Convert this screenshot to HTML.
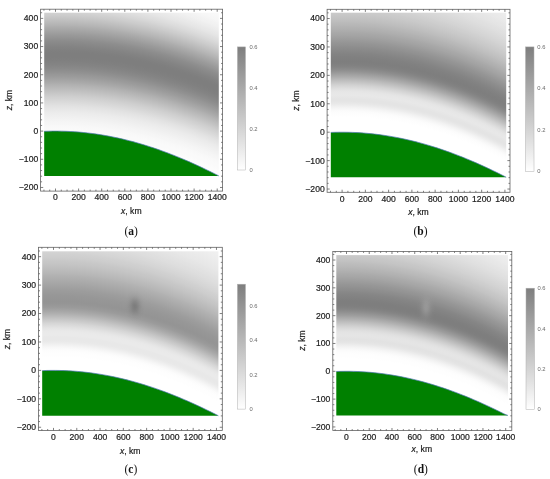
<!DOCTYPE html>
<html><head><meta charset="utf-8"><title>Figure</title>
<style>
html,body{margin:0;padding:0;background:#fff;}
svg{display:block;}
.tl{font-family:"Liberation Sans",sans-serif;font-size:8.6px;fill:#1c1c1c;stroke:#1c1c1c;stroke-width:0.2px;}
.al{font-family:"Liberation Sans",sans-serif;font-size:8.6px;fill:#1c1c1c;stroke:#1c1c1c;stroke-width:0.2px;}
.cap{font-family:"Liberation Serif",serif;font-size:11.5px;fill:#111;}
.cl{font-family:"Liberation Sans",sans-serif;font-size:5.8px;fill:#6a6a6a;}
</style></head><body>
<svg width="550" height="479" viewBox="0 0 550 479">
<defs>
<clipPath id="cpa"><rect x="44.2" y="12.7" width="174.60" height="163.40"/></clipPath>
<radialGradient id="rga" gradientUnits="userSpaceOnUse" cx="0" cy="0" r="8456.24" gradientTransform="translate(57.442 2328.054) scale(0.1155 0.2818)"><stop offset="0.91840" stop-color="#fdfdfd"/><stop offset="0.91923" stop-color="#fcfcfc"/><stop offset="0.92006" stop-color="#fcfcfc"/><stop offset="0.92089" stop-color="#fbfbfb"/><stop offset="0.92171" stop-color="#fafafa"/><stop offset="0.92254" stop-color="#fafafa"/><stop offset="0.92337" stop-color="#f9f9f9"/><stop offset="0.92420" stop-color="#f8f8f8"/><stop offset="0.92503" stop-color="#f6f6f6"/><stop offset="0.92585" stop-color="#f5f5f5"/><stop offset="0.92668" stop-color="#f3f3f3"/><stop offset="0.92751" stop-color="#f1f1f1"/><stop offset="0.92834" stop-color="#efefef"/><stop offset="0.92916" stop-color="#ededed"/><stop offset="0.92999" stop-color="#ebebeb"/><stop offset="0.93082" stop-color="#e8e8e8"/><stop offset="0.93165" stop-color="#e5e5e5"/><stop offset="0.93248" stop-color="#e2e2e2"/><stop offset="0.93330" stop-color="#dedede"/><stop offset="0.93413" stop-color="#dadada"/><stop offset="0.93496" stop-color="#d6d6d6"/><stop offset="0.93579" stop-color="#d2d2d2"/><stop offset="0.93661" stop-color="#cecece"/><stop offset="0.93744" stop-color="#c9c9c9"/><stop offset="0.93827" stop-color="#c4c4c4"/><stop offset="0.93910" stop-color="#bfbfbf"/><stop offset="0.93993" stop-color="#bababa"/><stop offset="0.94075" stop-color="#b5b5b5"/><stop offset="0.94158" stop-color="#b0b0b0"/><stop offset="0.94241" stop-color="#aaaaaa"/><stop offset="0.94324" stop-color="#a5a5a5"/><stop offset="0.94406" stop-color="#a0a0a0"/><stop offset="0.94489" stop-color="#9b9b9b"/><stop offset="0.94572" stop-color="#979797"/><stop offset="0.94655" stop-color="#929292"/><stop offset="0.94738" stop-color="#8e8e8e"/><stop offset="0.94820" stop-color="#8a8a8a"/><stop offset="0.94903" stop-color="#878787"/><stop offset="0.94986" stop-color="#848484"/><stop offset="0.95069" stop-color="#828282"/><stop offset="0.95152" stop-color="#808080"/><stop offset="0.95234" stop-color="#7f7f7f"/><stop offset="0.95317" stop-color="#7e7e7e"/><stop offset="0.95400" stop-color="#7e7e7e"/><stop offset="0.95483" stop-color="#7e7e7e"/><stop offset="0.95565" stop-color="#7f7f7f"/><stop offset="0.95648" stop-color="#818181"/><stop offset="0.95731" stop-color="#838383"/><stop offset="0.95814" stop-color="#868686"/><stop offset="0.95897" stop-color="#898989"/><stop offset="0.95979" stop-color="#8c8c8c"/><stop offset="0.96062" stop-color="#909090"/><stop offset="0.96145" stop-color="#959595"/><stop offset="0.96228" stop-color="#999999"/><stop offset="0.96310" stop-color="#9e9e9e"/><stop offset="0.96393" stop-color="#a3a3a3"/><stop offset="0.96476" stop-color="#a8a8a8"/><stop offset="0.96559" stop-color="#adadad"/><stop offset="0.96642" stop-color="#b3b3b3"/><stop offset="0.96724" stop-color="#b8b8b8"/><stop offset="0.96807" stop-color="#bdbdbd"/><stop offset="0.96890" stop-color="#c2c2c2"/><stop offset="0.96973" stop-color="#c7c7c7"/><stop offset="0.97055" stop-color="#cccccc"/><stop offset="0.97138" stop-color="#d0d0d0"/><stop offset="0.97221" stop-color="#d5d5d5"/><stop offset="0.97304" stop-color="#d9d9d9"/><stop offset="0.97387" stop-color="#dddddd"/><stop offset="0.97469" stop-color="#e0e0e0"/><stop offset="0.97552" stop-color="#e4e4e4"/><stop offset="0.97635" stop-color="#e7e7e7"/><stop offset="0.97718" stop-color="#e9e9e9"/><stop offset="0.97800" stop-color="#ececec"/><stop offset="0.97883" stop-color="#eeeeee"/><stop offset="0.97966" stop-color="#f1f1f1"/><stop offset="0.98049" stop-color="#f2f2f2"/><stop offset="0.98132" stop-color="#f4f4f4"/><stop offset="0.98214" stop-color="#f6f6f6"/><stop offset="0.98297" stop-color="#f7f7f7"/><stop offset="0.98380" stop-color="#f8f8f8"/><stop offset="0.98463" stop-color="#f9f9f9"/><stop offset="0.98545" stop-color="#fafafa"/><stop offset="0.98628" stop-color="#fbfbfb"/><stop offset="0.98711" stop-color="#fcfcfc"/><stop offset="0.98794" stop-color="#fcfcfc"/><stop offset="0.98877" stop-color="#fdfdfd"/><stop offset="0.98959" stop-color="#fdfdfd"/><stop offset="0.99042" stop-color="#fdfdfd"/><stop offset="0.99125" stop-color="#fefefe"/><stop offset="0.99208" stop-color="#fefefe"/><stop offset="0.99290" stop-color="#fefefe"/><stop offset="0.99373" stop-color="#fefefe"/><stop offset="0.99456" stop-color="#fefefe"/><stop offset="0.99539" stop-color="#ffffff"/><stop offset="0.99622" stop-color="#ffffff"/><stop offset="0.99704" stop-color="#ffffff"/><stop offset="0.99787" stop-color="#ffffff"/><stop offset="0.99870" stop-color="#ffffff"/><stop offset="0.99953" stop-color="#ffffff"/></radialGradient>
<linearGradient id="cba" x1="0" y1="1" x2="0" y2="0"><stop offset="0" stop-color="#ffffff"/><stop offset="1" stop-color="#7e7e7e"/></linearGradient>
<clipPath id="cpb"><rect x="330.8" y="12.7" width="175.40" height="164.60"/></clipPath>
<radialGradient id="rgb" gradientUnits="userSpaceOnUse" cx="0" cy="0" r="7031.00" gradientTransform="translate(342.100 1942.838) scale(0.1163 0.2842)"><stop offset="0.90186" stop-color="#ffffff"/><stop offset="0.90286" stop-color="#ffffff"/><stop offset="0.90385" stop-color="#ffffff"/><stop offset="0.90485" stop-color="#ffffff"/><stop offset="0.90585" stop-color="#ffffff"/><stop offset="0.90684" stop-color="#ffffff"/><stop offset="0.90784" stop-color="#ffffff"/><stop offset="0.90883" stop-color="#ffffff"/><stop offset="0.90983" stop-color="#ffffff"/><stop offset="0.91082" stop-color="#ffffff"/><stop offset="0.91182" stop-color="#ffffff"/><stop offset="0.91281" stop-color="#ffffff"/><stop offset="0.91381" stop-color="#ffffff"/><stop offset="0.91481" stop-color="#fefefe"/><stop offset="0.91580" stop-color="#fdfdfd"/><stop offset="0.91680" stop-color="#fbfbfb"/><stop offset="0.91779" stop-color="#f7f7f7"/><stop offset="0.91879" stop-color="#f2f2f2"/><stop offset="0.91978" stop-color="#ececec"/><stop offset="0.92078" stop-color="#e7e7e7"/><stop offset="0.92177" stop-color="#e4e4e4"/><stop offset="0.92277" stop-color="#e4e4e4"/><stop offset="0.92377" stop-color="#e6e6e6"/><stop offset="0.92476" stop-color="#e8e8e8"/><stop offset="0.92576" stop-color="#e7e7e7"/><stop offset="0.92675" stop-color="#e5e5e5"/><stop offset="0.92775" stop-color="#e0e0e0"/><stop offset="0.92874" stop-color="#d9d9d9"/><stop offset="0.92974" stop-color="#d2d2d2"/><stop offset="0.93074" stop-color="#c9c9c9"/><stop offset="0.93173" stop-color="#c0c0c0"/><stop offset="0.93273" stop-color="#b7b7b7"/><stop offset="0.93372" stop-color="#adadad"/><stop offset="0.93472" stop-color="#a4a4a4"/><stop offset="0.93571" stop-color="#9b9b9b"/><stop offset="0.93671" stop-color="#929292"/><stop offset="0.93770" stop-color="#8b8b8b"/><stop offset="0.93870" stop-color="#858585"/><stop offset="0.93970" stop-color="#818181"/><stop offset="0.94069" stop-color="#7f7f7f"/><stop offset="0.94169" stop-color="#7e7e7e"/><stop offset="0.94268" stop-color="#7f7f7f"/><stop offset="0.94368" stop-color="#808080"/><stop offset="0.94467" stop-color="#828282"/><stop offset="0.94567" stop-color="#848484"/><stop offset="0.94666" stop-color="#878787"/><stop offset="0.94766" stop-color="#8a8a8a"/><stop offset="0.94866" stop-color="#8d8d8d"/><stop offset="0.94965" stop-color="#919191"/><stop offset="0.95065" stop-color="#949494"/><stop offset="0.95164" stop-color="#989898"/><stop offset="0.95264" stop-color="#9c9c9c"/><stop offset="0.95363" stop-color="#a0a0a0"/><stop offset="0.95463" stop-color="#a4a4a4"/><stop offset="0.95563" stop-color="#a7a7a7"/><stop offset="0.95662" stop-color="#ababab"/><stop offset="0.95762" stop-color="#afafaf"/><stop offset="0.95861" stop-color="#b2b2b2"/><stop offset="0.95961" stop-color="#b6b6b6"/><stop offset="0.96060" stop-color="#b9b9b9"/><stop offset="0.96160" stop-color="#bdbdbd"/><stop offset="0.96259" stop-color="#c0c0c0"/><stop offset="0.96359" stop-color="#c3c3c3"/><stop offset="0.96459" stop-color="#c6c6c6"/><stop offset="0.96558" stop-color="#c9c9c9"/><stop offset="0.96658" stop-color="#cbcbcb"/><stop offset="0.96757" stop-color="#cecece"/><stop offset="0.96857" stop-color="#d0d0d0"/><stop offset="0.96956" stop-color="#d3d3d3"/><stop offset="0.97056" stop-color="#d5d5d5"/><stop offset="0.97155" stop-color="#d7d7d7"/><stop offset="0.97255" stop-color="#d9d9d9"/><stop offset="0.97355" stop-color="#dbdbdb"/><stop offset="0.97454" stop-color="#dddddd"/><stop offset="0.97554" stop-color="#dfdfdf"/><stop offset="0.97653" stop-color="#e0e0e0"/><stop offset="0.97753" stop-color="#e2e2e2"/><stop offset="0.97852" stop-color="#e4e4e4"/><stop offset="0.97952" stop-color="#e5e5e5"/><stop offset="0.98051" stop-color="#e6e6e6"/><stop offset="0.98151" stop-color="#e8e8e8"/><stop offset="0.98251" stop-color="#e9e9e9"/><stop offset="0.98350" stop-color="#eaeaea"/><stop offset="0.98450" stop-color="#ebebeb"/><stop offset="0.98549" stop-color="#ececec"/><stop offset="0.98649" stop-color="#ededed"/><stop offset="0.98748" stop-color="#eeeeee"/><stop offset="0.98848" stop-color="#efefef"/><stop offset="0.98948" stop-color="#f0f0f0"/><stop offset="0.99047" stop-color="#f1f1f1"/><stop offset="0.99147" stop-color="#f1f1f1"/><stop offset="0.99246" stop-color="#f2f2f2"/><stop offset="0.99346" stop-color="#f3f3f3"/><stop offset="0.99445" stop-color="#f3f3f3"/><stop offset="0.99545" stop-color="#f4f4f4"/><stop offset="0.99644" stop-color="#f5f5f5"/><stop offset="0.99744" stop-color="#f5f5f5"/><stop offset="0.99844" stop-color="#f6f6f6"/><stop offset="0.99943" stop-color="#f6f6f6"/></radialGradient>
<linearGradient id="cbb" x1="0" y1="1" x2="0" y2="0"><stop offset="0" stop-color="#ffffff"/><stop offset="1" stop-color="#7e7e7e"/></linearGradient>
<clipPath id="cpc"><rect x="42.2" y="251.3" width="176.20" height="164.50"/></clipPath>
<radialGradient id="rgc" gradientUnits="userSpaceOnUse" cx="0" cy="0" r="7031.00" gradientTransform="translate(53.500 2181.675) scale(0.1164 0.2843)"><stop offset="0.90186" stop-color="#ffffff"/><stop offset="0.90286" stop-color="#ffffff"/><stop offset="0.90385" stop-color="#ffffff"/><stop offset="0.90485" stop-color="#ffffff"/><stop offset="0.90585" stop-color="#ffffff"/><stop offset="0.90684" stop-color="#ffffff"/><stop offset="0.90784" stop-color="#ffffff"/><stop offset="0.90883" stop-color="#ffffff"/><stop offset="0.90983" stop-color="#ffffff"/><stop offset="0.91082" stop-color="#ffffff"/><stop offset="0.91182" stop-color="#ffffff"/><stop offset="0.91281" stop-color="#ffffff"/><stop offset="0.91381" stop-color="#fefefe"/><stop offset="0.91481" stop-color="#fefefe"/><stop offset="0.91580" stop-color="#fdfdfd"/><stop offset="0.91680" stop-color="#fbfbfb"/><stop offset="0.91779" stop-color="#f7f7f7"/><stop offset="0.91879" stop-color="#f2f2f2"/><stop offset="0.91978" stop-color="#ededed"/><stop offset="0.92078" stop-color="#e9e9e9"/><stop offset="0.92177" stop-color="#e8e8e8"/><stop offset="0.92277" stop-color="#e8e8e8"/><stop offset="0.92377" stop-color="#eaeaea"/><stop offset="0.92476" stop-color="#eaeaea"/><stop offset="0.92576" stop-color="#e9e9e9"/><stop offset="0.92675" stop-color="#e6e6e6"/><stop offset="0.92775" stop-color="#e1e1e1"/><stop offset="0.92874" stop-color="#dbdbdb"/><stop offset="0.92974" stop-color="#d5d5d5"/><stop offset="0.93074" stop-color="#cdcdcd"/><stop offset="0.93173" stop-color="#c6c6c6"/><stop offset="0.93273" stop-color="#bebebe"/><stop offset="0.93372" stop-color="#b6b6b6"/><stop offset="0.93472" stop-color="#aeaeae"/><stop offset="0.93571" stop-color="#a7a7a7"/><stop offset="0.93671" stop-color="#a1a1a1"/><stop offset="0.93770" stop-color="#9b9b9b"/><stop offset="0.93870" stop-color="#989898"/><stop offset="0.93970" stop-color="#959595"/><stop offset="0.94069" stop-color="#949494"/><stop offset="0.94169" stop-color="#959595"/><stop offset="0.94268" stop-color="#969696"/><stop offset="0.94368" stop-color="#979797"/><stop offset="0.94467" stop-color="#999999"/><stop offset="0.94567" stop-color="#9b9b9b"/><stop offset="0.94666" stop-color="#9d9d9d"/><stop offset="0.94766" stop-color="#a0a0a0"/><stop offset="0.94866" stop-color="#a3a3a3"/><stop offset="0.94965" stop-color="#a6a6a6"/><stop offset="0.95065" stop-color="#a9a9a9"/><stop offset="0.95164" stop-color="#acacac"/><stop offset="0.95264" stop-color="#afafaf"/><stop offset="0.95363" stop-color="#b2b2b2"/><stop offset="0.95463" stop-color="#b6b6b6"/><stop offset="0.95563" stop-color="#b9b9b9"/><stop offset="0.95662" stop-color="#bcbcbc"/><stop offset="0.95762" stop-color="#bfbfbf"/><stop offset="0.95861" stop-color="#c2c2c2"/><stop offset="0.95961" stop-color="#c5c5c5"/><stop offset="0.96060" stop-color="#c7c7c7"/><stop offset="0.96160" stop-color="#cacaca"/><stop offset="0.96259" stop-color="#cdcdcd"/><stop offset="0.96359" stop-color="#cfcfcf"/><stop offset="0.96459" stop-color="#d1d1d1"/><stop offset="0.96558" stop-color="#d4d4d4"/><stop offset="0.96658" stop-color="#d6d6d6"/><stop offset="0.96757" stop-color="#d8d8d8"/><stop offset="0.96857" stop-color="#dadada"/><stop offset="0.96956" stop-color="#dcdcdc"/><stop offset="0.97056" stop-color="#dedede"/><stop offset="0.97155" stop-color="#dfdfdf"/><stop offset="0.97255" stop-color="#e1e1e1"/><stop offset="0.97355" stop-color="#e2e2e2"/><stop offset="0.97454" stop-color="#e4e4e4"/><stop offset="0.97554" stop-color="#e5e5e5"/><stop offset="0.97653" stop-color="#e7e7e7"/><stop offset="0.97753" stop-color="#e8e8e8"/><stop offset="0.97852" stop-color="#e9e9e9"/><stop offset="0.97952" stop-color="#eaeaea"/><stop offset="0.98051" stop-color="#ebebeb"/><stop offset="0.98151" stop-color="#ececec"/><stop offset="0.98251" stop-color="#ededed"/><stop offset="0.98350" stop-color="#eeeeee"/><stop offset="0.98450" stop-color="#efefef"/><stop offset="0.98549" stop-color="#f0f0f0"/><stop offset="0.98649" stop-color="#f1f1f1"/><stop offset="0.98748" stop-color="#f2f2f2"/><stop offset="0.98848" stop-color="#f2f2f2"/><stop offset="0.98948" stop-color="#f3f3f3"/><stop offset="0.99047" stop-color="#f4f4f4"/><stop offset="0.99147" stop-color="#f4f4f4"/><stop offset="0.99246" stop-color="#f5f5f5"/><stop offset="0.99346" stop-color="#f5f5f5"/><stop offset="0.99445" stop-color="#f6f6f6"/><stop offset="0.99545" stop-color="#f6f6f6"/><stop offset="0.99644" stop-color="#f7f7f7"/><stop offset="0.99744" stop-color="#f7f7f7"/><stop offset="0.99844" stop-color="#f8f8f8"/><stop offset="0.99943" stop-color="#f8f8f8"/></radialGradient>
<radialGradient id="blc" gradientUnits="userSpaceOnUse" cx="0" cy="0" r="2.6" gradientTransform="translate(134.86 305.86) scale(4.889 7.676)"><stop offset="0.000" stop-color="#000" stop-opacity="0.1700"/><stop offset="0.077" stop-color="#000" stop-opacity="0.1633"/><stop offset="0.154" stop-color="#000" stop-opacity="0.1449"/><stop offset="0.231" stop-color="#000" stop-opacity="0.1186"/><stop offset="0.308" stop-color="#000" stop-opacity="0.0896"/><stop offset="0.385" stop-color="#000" stop-opacity="0.0625"/><stop offset="0.462" stop-color="#000" stop-opacity="0.0403"/><stop offset="0.538" stop-color="#000" stop-opacity="0.0239"/><stop offset="0.615" stop-color="#000" stop-opacity="0.0131"/><stop offset="0.692" stop-color="#000" stop-opacity="0.0067"/><stop offset="0.769" stop-color="#000" stop-opacity="0.0031"/><stop offset="0.846" stop-color="#000" stop-opacity="0.0013"/><stop offset="0.923" stop-color="#000" stop-opacity="0.0005"/><stop offset="1.000" stop-color="#000" stop-opacity="0.0000"/></radialGradient>
<linearGradient id="cbc" x1="0" y1="1" x2="0" y2="0"><stop offset="0" stop-color="#ffffff"/><stop offset="1" stop-color="#7e7e7e"/></linearGradient>
<clipPath id="cpd"><rect x="336.3" y="255.1" width="171.70" height="160.40"/></clipPath>
<radialGradient id="rgd" gradientUnits="userSpaceOnUse" cx="0" cy="0" r="7110.21" gradientTransform="translate(340.981 2165.804) scale(0.1137 0.2782)"><stop offset="0.90296" stop-color="#ffffff"/><stop offset="0.90394" stop-color="#ffffff"/><stop offset="0.90493" stop-color="#ffffff"/><stop offset="0.90591" stop-color="#ffffff"/><stop offset="0.90689" stop-color="#ffffff"/><stop offset="0.90788" stop-color="#ffffff"/><stop offset="0.90886" stop-color="#ffffff"/><stop offset="0.90985" stop-color="#ffffff"/><stop offset="0.91083" stop-color="#ffffff"/><stop offset="0.91182" stop-color="#ffffff"/><stop offset="0.91280" stop-color="#ffffff"/><stop offset="0.91379" stop-color="#ffffff"/><stop offset="0.91477" stop-color="#fefefe"/><stop offset="0.91575" stop-color="#fefefe"/><stop offset="0.91674" stop-color="#fdfdfd"/><stop offset="0.91772" stop-color="#fbfbfb"/><stop offset="0.91871" stop-color="#f7f7f7"/><stop offset="0.91969" stop-color="#f2f2f2"/><stop offset="0.92068" stop-color="#ececec"/><stop offset="0.92166" stop-color="#e6e6e6"/><stop offset="0.92265" stop-color="#e3e3e3"/><stop offset="0.92363" stop-color="#e2e2e2"/><stop offset="0.92462" stop-color="#e4e4e4"/><stop offset="0.92560" stop-color="#e5e5e5"/><stop offset="0.92658" stop-color="#e4e4e4"/><stop offset="0.92757" stop-color="#e1e1e1"/><stop offset="0.92855" stop-color="#dcdcdc"/><stop offset="0.92954" stop-color="#d5d5d5"/><stop offset="0.93052" stop-color="#cdcdcd"/><stop offset="0.93151" stop-color="#c4c4c4"/><stop offset="0.93249" stop-color="#bbbbbb"/><stop offset="0.93348" stop-color="#b1b1b1"/><stop offset="0.93446" stop-color="#a8a8a8"/><stop offset="0.93544" stop-color="#9e9e9e"/><stop offset="0.93643" stop-color="#969696"/><stop offset="0.93741" stop-color="#8e8e8e"/><stop offset="0.93840" stop-color="#878787"/><stop offset="0.93938" stop-color="#828282"/><stop offset="0.94037" stop-color="#7f7f7f"/><stop offset="0.94135" stop-color="#7e7e7e"/><stop offset="0.94234" stop-color="#7e7e7e"/><stop offset="0.94332" stop-color="#7f7f7f"/><stop offset="0.94431" stop-color="#818181"/><stop offset="0.94529" stop-color="#838383"/><stop offset="0.94627" stop-color="#858585"/><stop offset="0.94726" stop-color="#888888"/><stop offset="0.94824" stop-color="#8c8c8c"/><stop offset="0.94923" stop-color="#8f8f8f"/><stop offset="0.95021" stop-color="#939393"/><stop offset="0.95120" stop-color="#969696"/><stop offset="0.95218" stop-color="#9a9a9a"/><stop offset="0.95317" stop-color="#9e9e9e"/><stop offset="0.95415" stop-color="#a2a2a2"/><stop offset="0.95513" stop-color="#a6a6a6"/><stop offset="0.95612" stop-color="#a9a9a9"/><stop offset="0.95710" stop-color="#adadad"/><stop offset="0.95809" stop-color="#b1b1b1"/><stop offset="0.95907" stop-color="#b4b4b4"/><stop offset="0.96006" stop-color="#b8b8b8"/><stop offset="0.96104" stop-color="#bbbbbb"/><stop offset="0.96203" stop-color="#bebebe"/><stop offset="0.96301" stop-color="#c2c2c2"/><stop offset="0.96400" stop-color="#c5c5c5"/><stop offset="0.96498" stop-color="#c7c7c7"/><stop offset="0.96596" stop-color="#cacaca"/><stop offset="0.96695" stop-color="#cdcdcd"/><stop offset="0.96793" stop-color="#cfcfcf"/><stop offset="0.96892" stop-color="#d2d2d2"/><stop offset="0.96990" stop-color="#d4d4d4"/><stop offset="0.97089" stop-color="#d6d6d6"/><stop offset="0.97187" stop-color="#d8d8d8"/><stop offset="0.97286" stop-color="#dadada"/><stop offset="0.97384" stop-color="#dcdcdc"/><stop offset="0.97482" stop-color="#dedede"/><stop offset="0.97581" stop-color="#e0e0e0"/><stop offset="0.97679" stop-color="#e1e1e1"/><stop offset="0.97778" stop-color="#e3e3e3"/><stop offset="0.97876" stop-color="#e4e4e4"/><stop offset="0.97975" stop-color="#e6e6e6"/><stop offset="0.98073" stop-color="#e7e7e7"/><stop offset="0.98172" stop-color="#e8e8e8"/><stop offset="0.98270" stop-color="#eaeaea"/><stop offset="0.98369" stop-color="#ebebeb"/><stop offset="0.98467" stop-color="#ececec"/><stop offset="0.98565" stop-color="#ededed"/><stop offset="0.98664" stop-color="#eeeeee"/><stop offset="0.98762" stop-color="#efefef"/><stop offset="0.98861" stop-color="#f0f0f0"/><stop offset="0.98959" stop-color="#f0f0f0"/><stop offset="0.99058" stop-color="#f1f1f1"/><stop offset="0.99156" stop-color="#f2f2f2"/><stop offset="0.99255" stop-color="#f3f3f3"/><stop offset="0.99353" stop-color="#f3f3f3"/><stop offset="0.99451" stop-color="#f4f4f4"/><stop offset="0.99550" stop-color="#f4f4f4"/><stop offset="0.99648" stop-color="#f5f5f5"/><stop offset="0.99747" stop-color="#f6f6f6"/><stop offset="0.99845" stop-color="#f6f6f6"/><stop offset="0.99944" stop-color="#f6f6f6"/></radialGradient>
<radialGradient id="bld" gradientUnits="userSpaceOnUse" cx="0" cy="0" r="2.6" gradientTransform="translate(425.98 308.43) scale(4.775 8.346)"><stop offset="0.000" stop-color="#fff" stop-opacity="0.1700"/><stop offset="0.077" stop-color="#fff" stop-opacity="0.1633"/><stop offset="0.154" stop-color="#fff" stop-opacity="0.1449"/><stop offset="0.231" stop-color="#fff" stop-opacity="0.1186"/><stop offset="0.308" stop-color="#fff" stop-opacity="0.0896"/><stop offset="0.385" stop-color="#fff" stop-opacity="0.0625"/><stop offset="0.462" stop-color="#fff" stop-opacity="0.0403"/><stop offset="0.538" stop-color="#fff" stop-opacity="0.0239"/><stop offset="0.615" stop-color="#fff" stop-opacity="0.0131"/><stop offset="0.692" stop-color="#fff" stop-opacity="0.0067"/><stop offset="0.769" stop-color="#fff" stop-opacity="0.0031"/><stop offset="0.846" stop-color="#fff" stop-opacity="0.0013"/><stop offset="0.923" stop-color="#fff" stop-opacity="0.0005"/><stop offset="1.000" stop-color="#fff" stop-opacity="0.0000"/></radialGradient>
<linearGradient id="cbd" x1="0" y1="1" x2="0" y2="0"><stop offset="0" stop-color="#ffffff"/><stop offset="1" stop-color="#7e7e7e"/></linearGradient>
</defs>
<rect width="550" height="479" fill="#fff"/>
<rect x="44.2" y="12.7" width="174.60" height="163.40" fill="url(#rga)"/>
<path d="M44.20,131.33 L48.57,131.19 L52.93,131.11 L57.30,131.11 L61.66,131.17 L66.03,131.30 L70.39,131.50 L74.76,131.76 L79.12,132.10 L83.48,132.50 L87.85,132.97 L92.22,133.51 L96.58,134.11 L100.94,134.78 L105.31,135.52 L109.68,136.32 L114.04,137.19 L118.41,138.12 L122.77,139.12 L127.14,140.18 L131.50,141.30 L135.87,142.49 L140.23,143.74 L144.59,145.05 L148.96,146.43 L153.32,147.86 L157.69,149.35 L162.06,150.90 L166.42,152.50 L170.79,154.17 L175.15,155.89 L179.51,157.66 L183.88,159.49 L188.25,161.37 L192.61,163.30 L196.97,165.28 L201.34,167.31 L205.70,169.39 L210.07,171.51 L214.44,173.68 L218.80,175.90 L218.80,176.10 L44.20,176.10 Z" fill="#008000"/>
<path d="M44.20,131.33 L48.57,131.19 L52.93,131.11 L57.30,131.11 L61.66,131.17 L66.03,131.30 L70.39,131.50 L74.76,131.76 L79.12,132.10 L83.48,132.50 L87.85,132.97 L92.22,133.51 L96.58,134.11 L100.94,134.78 L105.31,135.52 L109.68,136.32 L114.04,137.19 L118.41,138.12 L122.77,139.12 L127.14,140.18 L131.50,141.30 L135.87,142.49 L140.23,143.74 L144.59,145.05 L148.96,146.43 L153.32,147.86 L157.69,149.35 L162.06,150.90 L166.42,152.50 L170.79,154.17 L175.15,155.89 L179.51,157.66 L183.88,159.49 L188.25,161.37 L192.61,163.30 L196.97,165.28 L201.34,167.31 L205.70,169.39 L210.07,171.51 L214.44,173.68 L218.80,175.90" fill="none" stroke="#4f76b5" stroke-width="0.7"/>
<rect x="40.6" y="9.2" width="182.00" height="181.90" fill="none" stroke="#626262" stroke-width="0.8"/>
<path d="M43.95,191.1 v-1.5 M43.95,9.2 v1.5 M49.73,191.1 v-1.5 M49.73,9.2 v1.5 M55.50,191.1 v-2.6 M55.50,9.2 v2.6 M61.27,191.1 v-1.5 M61.27,9.2 v1.5 M67.05,191.1 v-1.5 M67.05,9.2 v1.5 M72.83,191.1 v-1.5 M72.83,9.2 v1.5 M78.60,191.1 v-2.6 M78.60,9.2 v2.6 M84.38,191.1 v-1.5 M84.38,9.2 v1.5 M90.15,191.1 v-1.5 M90.15,9.2 v1.5 M95.93,191.1 v-1.5 M95.93,9.2 v1.5 M101.70,191.1 v-2.6 M101.70,9.2 v2.6 M107.47,191.1 v-1.5 M107.47,9.2 v1.5 M113.25,191.1 v-1.5 M113.25,9.2 v1.5 M119.03,191.1 v-1.5 M119.03,9.2 v1.5 M124.80,191.1 v-2.6 M124.80,9.2 v2.6 M130.57,191.1 v-1.5 M130.57,9.2 v1.5 M136.35,191.1 v-1.5 M136.35,9.2 v1.5 M142.12,191.1 v-1.5 M142.12,9.2 v1.5 M147.90,191.1 v-2.6 M147.90,9.2 v2.6 M153.68,191.1 v-1.5 M153.68,9.2 v1.5 M159.45,191.1 v-1.5 M159.45,9.2 v1.5 M165.23,191.1 v-1.5 M165.23,9.2 v1.5 M171.00,191.1 v-2.6 M171.00,9.2 v2.6 M176.78,191.1 v-1.5 M176.78,9.2 v1.5 M182.55,191.1 v-1.5 M182.55,9.2 v1.5 M188.33,191.1 v-1.5 M188.33,9.2 v1.5 M194.10,191.1 v-2.6 M194.10,9.2 v2.6 M199.88,191.1 v-1.5 M199.88,9.2 v1.5 M205.65,191.1 v-1.5 M205.65,9.2 v1.5 M211.43,191.1 v-1.5 M211.43,9.2 v1.5 M217.20,191.1 v-2.6 M217.20,9.2 v2.6 M40.6,187.46 h2.6 M222.6,187.46 h-2.6 M40.6,181.82 h1.5 M222.6,181.82 h-1.5 M40.6,176.19 h1.5 M222.6,176.19 h-1.5 M40.6,170.55 h1.5 M222.6,170.55 h-1.5 M40.6,164.92 h1.5 M222.6,164.92 h-1.5 M40.6,159.28 h2.6 M222.6,159.28 h-2.6 M40.6,153.64 h1.5 M222.6,153.64 h-1.5 M40.6,148.01 h1.5 M222.6,148.01 h-1.5 M40.6,142.37 h1.5 M222.6,142.37 h-1.5 M40.6,136.74 h1.5 M222.6,136.74 h-1.5 M40.6,131.10 h2.6 M222.6,131.10 h-2.6 M40.6,125.46 h1.5 M222.6,125.46 h-1.5 M40.6,119.83 h1.5 M222.6,119.83 h-1.5 M40.6,114.19 h1.5 M222.6,114.19 h-1.5 M40.6,108.56 h1.5 M222.6,108.56 h-1.5 M40.6,102.92 h2.6 M222.6,102.92 h-2.6 M40.6,97.28 h1.5 M222.6,97.28 h-1.5 M40.6,91.65 h1.5 M222.6,91.65 h-1.5 M40.6,86.01 h1.5 M222.6,86.01 h-1.5 M40.6,80.38 h1.5 M222.6,80.38 h-1.5 M40.6,74.74 h2.6 M222.6,74.74 h-2.6 M40.6,69.10 h1.5 M222.6,69.10 h-1.5 M40.6,63.47 h1.5 M222.6,63.47 h-1.5 M40.6,57.83 h1.5 M222.6,57.83 h-1.5 M40.6,52.20 h1.5 M222.6,52.20 h-1.5 M40.6,46.56 h2.6 M222.6,46.56 h-2.6 M40.6,40.92 h1.5 M222.6,40.92 h-1.5 M40.6,35.29 h1.5 M222.6,35.29 h-1.5 M40.6,29.65 h1.5 M222.6,29.65 h-1.5 M40.6,24.02 h1.5 M222.6,24.02 h-1.5 M40.6,18.38 h2.6 M222.6,18.38 h-2.6 M40.6,12.74 h1.5 M222.6,12.74 h-1.5" stroke="#555" stroke-width="0.75" fill="none"/>
<text class="tl" x="55.50" y="199.9" text-anchor="middle">0</text>
<text class="tl" x="78.60" y="199.9" text-anchor="middle">200</text>
<text class="tl" x="101.70" y="199.9" text-anchor="middle">400</text>
<text class="tl" x="124.80" y="199.9" text-anchor="middle">600</text>
<text class="tl" x="147.90" y="199.9" text-anchor="middle">800</text>
<text class="tl" x="171.00" y="199.9" text-anchor="middle">1000</text>
<text class="tl" x="194.10" y="199.9" text-anchor="middle">1200</text>
<text class="tl" x="217.20" y="199.9" text-anchor="middle">1400</text>
<text class="tl" x="38.20" y="190.36" text-anchor="end">−200</text>
<text class="tl" x="38.20" y="162.18" text-anchor="end">−100</text>
<text class="tl" x="38.20" y="134.00" text-anchor="end">0</text>
<text class="tl" x="38.20" y="105.82" text-anchor="end">100</text>
<text class="tl" x="38.20" y="77.64" text-anchor="end">200</text>
<text class="tl" x="38.20" y="49.46" text-anchor="end">300</text>
<text class="tl" x="38.20" y="21.28" text-anchor="end">400</text>
<text class="al" x="131.3" y="213.8" text-anchor="middle"><tspan font-style="italic">x</tspan>, km</text>
<text class="al" transform="translate(12.0,100.0) rotate(-90)" text-anchor="middle"><tspan font-style="italic">z</tspan>, km</text>
<text class="cap" x="131.2" y="234.8" text-anchor="middle">(<tspan font-weight="bold">a</tspan>)</text>
<rect x="237.4" y="46.9" width="8.10" height="123.10" fill="url(#cba)" stroke="#b0b0b0" stroke-width="0.5"/>
<text class="cl" x="249.5" y="171.90">0</text>
<text class="cl" x="249.5" y="130.87">0.2</text>
<text class="cl" x="249.5" y="89.83">0.4</text>
<text class="cl" x="249.5" y="48.80">0.6</text>
<rect x="330.8" y="12.7" width="175.40" height="164.60" fill="url(#rgb)"/>
<path d="M330.80,132.43 L335.19,132.29 L339.57,132.21 L343.95,132.21 L348.34,132.27 L352.73,132.40 L357.11,132.60 L361.50,132.87 L365.88,133.21 L370.26,133.61 L374.65,134.08 L379.04,134.62 L383.42,135.23 L387.81,135.90 L392.19,136.64 L396.57,137.45 L400.96,138.32 L405.35,139.26 L409.73,140.26 L414.12,141.33 L418.50,142.46 L422.88,143.65 L427.27,144.91 L431.65,146.22 L436.04,147.60 L440.43,149.04 L444.81,150.54 L449.19,152.09 L453.58,153.71 L457.96,155.38 L462.35,157.11 L466.74,158.89 L471.12,160.72 L475.50,162.61 L479.89,164.55 L484.27,166.54 L488.66,168.58 L493.04,170.67 L497.43,172.80 L501.81,174.99 L506.20,177.21 L506.20,177.30 L330.80,177.30 Z" fill="#008000"/>
<path d="M330.80,132.43 L335.19,132.29 L339.57,132.21 L343.95,132.21 L348.34,132.27 L352.73,132.40 L357.11,132.60 L361.50,132.87 L365.88,133.21 L370.26,133.61 L374.65,134.08 L379.04,134.62 L383.42,135.23 L387.81,135.90 L392.19,136.64 L396.57,137.45 L400.96,138.32 L405.35,139.26 L409.73,140.26 L414.12,141.33 L418.50,142.46 L422.88,143.65 L427.27,144.91 L431.65,146.22 L436.04,147.60 L440.43,149.04 L444.81,150.54 L449.19,152.09 L453.58,153.71 L457.96,155.38 L462.35,157.11 L466.74,158.89 L471.12,160.72 L475.50,162.61 L479.89,164.55 L484.27,166.54 L488.66,168.58 L493.04,170.67 L497.43,172.80 L501.81,174.99 L506.20,177.21" fill="none" stroke="#4f76b5" stroke-width="0.7"/>
<rect x="327.1" y="9.3" width="182.90" height="183.00" fill="none" stroke="#626262" stroke-width="0.8"/>
<path d="M330.47,192.3 v-1.5 M330.47,9.3 v1.5 M336.29,192.3 v-1.5 M336.29,9.3 v1.5 M342.10,192.3 v-2.6 M342.10,9.3 v2.6 M347.92,192.3 v-1.5 M347.92,9.3 v1.5 M353.73,192.3 v-1.5 M353.73,9.3 v1.5 M359.55,192.3 v-1.5 M359.55,9.3 v1.5 M365.36,192.3 v-2.6 M365.36,9.3 v2.6 M371.18,192.3 v-1.5 M371.18,9.3 v1.5 M376.99,192.3 v-1.5 M376.99,9.3 v1.5 M382.81,192.3 v-1.5 M382.81,9.3 v1.5 M388.62,192.3 v-2.6 M388.62,9.3 v2.6 M394.44,192.3 v-1.5 M394.44,9.3 v1.5 M400.25,192.3 v-1.5 M400.25,9.3 v1.5 M406.07,192.3 v-1.5 M406.07,9.3 v1.5 M411.88,192.3 v-2.6 M411.88,9.3 v2.6 M417.70,192.3 v-1.5 M417.70,9.3 v1.5 M423.51,192.3 v-1.5 M423.51,9.3 v1.5 M429.33,192.3 v-1.5 M429.33,9.3 v1.5 M435.14,192.3 v-2.6 M435.14,9.3 v2.6 M440.96,192.3 v-1.5 M440.96,9.3 v1.5 M446.77,192.3 v-1.5 M446.77,9.3 v1.5 M452.59,192.3 v-1.5 M452.59,9.3 v1.5 M458.40,192.3 v-2.6 M458.40,9.3 v2.6 M464.22,192.3 v-1.5 M464.22,9.3 v1.5 M470.03,192.3 v-1.5 M470.03,9.3 v1.5 M475.85,192.3 v-1.5 M475.85,9.3 v1.5 M481.66,192.3 v-2.6 M481.66,9.3 v2.6 M487.48,192.3 v-1.5 M487.48,9.3 v1.5 M493.29,192.3 v-1.5 M493.29,9.3 v1.5 M499.11,192.3 v-1.5 M499.11,9.3 v1.5 M504.92,192.3 v-2.6 M504.92,9.3 v2.6 M327.1,189.04 h2.6 M510.0,189.04 h-2.6 M327.1,183.36 h1.5 M510.0,183.36 h-1.5 M327.1,177.67 h1.5 M510.0,177.67 h-1.5 M327.1,171.99 h1.5 M510.0,171.99 h-1.5 M327.1,166.30 h1.5 M510.0,166.30 h-1.5 M327.1,160.62 h2.6 M510.0,160.62 h-2.6 M327.1,154.94 h1.5 M510.0,154.94 h-1.5 M327.1,149.25 h1.5 M510.0,149.25 h-1.5 M327.1,143.57 h1.5 M510.0,143.57 h-1.5 M327.1,137.88 h1.5 M510.0,137.88 h-1.5 M327.1,132.20 h2.6 M510.0,132.20 h-2.6 M327.1,126.52 h1.5 M510.0,126.52 h-1.5 M327.1,120.83 h1.5 M510.0,120.83 h-1.5 M327.1,115.15 h1.5 M510.0,115.15 h-1.5 M327.1,109.46 h1.5 M510.0,109.46 h-1.5 M327.1,103.78 h2.6 M510.0,103.78 h-2.6 M327.1,98.10 h1.5 M510.0,98.10 h-1.5 M327.1,92.41 h1.5 M510.0,92.41 h-1.5 M327.1,86.73 h1.5 M510.0,86.73 h-1.5 M327.1,81.04 h1.5 M510.0,81.04 h-1.5 M327.1,75.36 h2.6 M510.0,75.36 h-2.6 M327.1,69.68 h1.5 M510.0,69.68 h-1.5 M327.1,63.99 h1.5 M510.0,63.99 h-1.5 M327.1,58.31 h1.5 M510.0,58.31 h-1.5 M327.1,52.62 h1.5 M510.0,52.62 h-1.5 M327.1,46.94 h2.6 M510.0,46.94 h-2.6 M327.1,41.26 h1.5 M510.0,41.26 h-1.5 M327.1,35.57 h1.5 M510.0,35.57 h-1.5 M327.1,29.89 h1.5 M510.0,29.89 h-1.5 M327.1,24.20 h1.5 M510.0,24.20 h-1.5 M327.1,18.52 h2.6 M510.0,18.52 h-2.6 M327.1,12.84 h1.5 M510.0,12.84 h-1.5" stroke="#555" stroke-width="0.75" fill="none"/>
<text class="tl" x="342.10" y="201.5" text-anchor="middle">0</text>
<text class="tl" x="365.36" y="201.5" text-anchor="middle">200</text>
<text class="tl" x="388.62" y="201.5" text-anchor="middle">400</text>
<text class="tl" x="411.88" y="201.5" text-anchor="middle">600</text>
<text class="tl" x="435.14" y="201.5" text-anchor="middle">800</text>
<text class="tl" x="458.40" y="201.5" text-anchor="middle">1000</text>
<text class="tl" x="481.66" y="201.5" text-anchor="middle">1200</text>
<text class="tl" x="504.92" y="201.5" text-anchor="middle">1400</text>
<text class="tl" x="324.70" y="191.94" text-anchor="end">−200</text>
<text class="tl" x="324.70" y="163.52" text-anchor="end">−100</text>
<text class="tl" x="324.70" y="135.10" text-anchor="end">0</text>
<text class="tl" x="324.70" y="106.68" text-anchor="end">100</text>
<text class="tl" x="324.70" y="78.26" text-anchor="end">200</text>
<text class="tl" x="324.70" y="49.84" text-anchor="end">300</text>
<text class="tl" x="324.70" y="21.42" text-anchor="end">400</text>
<text class="al" x="418.4" y="215.4" text-anchor="middle"><tspan font-style="italic">x</tspan>, km</text>
<text class="al" transform="translate(299.0,100.5) rotate(-90)" text-anchor="middle"><tspan font-style="italic">z</tspan>, km</text>
<text class="cap" x="420.5" y="234.8" text-anchor="middle">(<tspan font-weight="bold">b</tspan>)</text>
<rect x="525.5" y="46.9" width="8.50" height="124.40" fill="url(#cbb)" stroke="#b0b0b0" stroke-width="0.5"/>
<text class="cl" x="537.3" y="173.20">0</text>
<text class="cl" x="537.3" y="131.73">0.2</text>
<text class="cl" x="537.3" y="90.27">0.4</text>
<text class="cl" x="537.3" y="48.80">0.6</text>
<rect x="42.2" y="251.3" width="176.20" height="164.50" fill="url(#rgc)"/>
<rect x="114.86" y="280.86" width="40" height="50" fill="url(#blc)"/>
<path d="M42.20,370.63 L46.61,370.48 L51.01,370.41 L55.42,370.41 L59.82,370.47 L64.23,370.60 L68.63,370.81 L73.03,371.08 L77.44,371.42 L81.84,371.83 L86.25,372.30 L90.66,372.85 L95.06,373.46 L99.47,374.14 L103.87,374.89 L108.28,375.70 L112.68,376.58 L117.09,377.52 L121.49,378.54 L125.89,379.61 L130.30,380.75 L134.70,381.95 L139.11,383.22 L143.52,384.55 L147.92,385.94 L152.32,387.39 L156.73,388.90 L161.13,390.46 L165.54,392.09 L169.94,393.77 L174.35,395.51 L178.75,397.31 L183.16,399.16 L187.57,401.06 L191.97,403.02 L196.38,405.02 L200.78,407.07 L205.19,409.18 L209.59,411.33 L214.00,413.52 L218.40,415.76 L218.40,415.80 L42.20,415.80 Z" fill="#008000"/>
<path d="M42.20,370.63 L46.61,370.48 L51.01,370.41 L55.42,370.41 L59.82,370.47 L64.23,370.60 L68.63,370.81 L73.03,371.08 L77.44,371.42 L81.84,371.83 L86.25,372.30 L90.66,372.85 L95.06,373.46 L99.47,374.14 L103.87,374.89 L108.28,375.70 L112.68,376.58 L117.09,377.52 L121.49,378.54 L125.89,379.61 L130.30,380.75 L134.70,381.95 L139.11,383.22 L143.52,384.55 L147.92,385.94 L152.32,387.39 L156.73,388.90 L161.13,390.46 L165.54,392.09 L169.94,393.77 L174.35,395.51 L178.75,397.31 L183.16,399.16 L187.57,401.06 L191.97,403.02 L196.38,405.02 L200.78,407.07 L205.19,409.18 L209.59,411.33 L214.00,413.52 L218.40,415.76" fill="none" stroke="#4f76b5" stroke-width="0.7"/>
<rect x="38.5" y="247.3" width="183.80" height="183.20" fill="none" stroke="#626262" stroke-width="0.8"/>
<path d="M41.86,430.5 v-1.5 M41.86,247.3 v1.5 M47.68,430.5 v-1.5 M47.68,247.3 v1.5 M53.50,430.5 v-2.6 M53.50,247.3 v2.6 M59.32,430.5 v-1.5 M59.32,247.3 v1.5 M65.14,430.5 v-1.5 M65.14,247.3 v1.5 M70.96,430.5 v-1.5 M70.96,247.3 v1.5 M76.78,430.5 v-2.6 M76.78,247.3 v2.6 M82.60,430.5 v-1.5 M82.60,247.3 v1.5 M88.42,430.5 v-1.5 M88.42,247.3 v1.5 M94.24,430.5 v-1.5 M94.24,247.3 v1.5 M100.06,430.5 v-2.6 M100.06,247.3 v2.6 M105.88,430.5 v-1.5 M105.88,247.3 v1.5 M111.70,430.5 v-1.5 M111.70,247.3 v1.5 M117.52,430.5 v-1.5 M117.52,247.3 v1.5 M123.34,430.5 v-2.6 M123.34,247.3 v2.6 M129.16,430.5 v-1.5 M129.16,247.3 v1.5 M134.98,430.5 v-1.5 M134.98,247.3 v1.5 M140.80,430.5 v-1.5 M140.80,247.3 v1.5 M146.62,430.5 v-2.6 M146.62,247.3 v2.6 M152.44,430.5 v-1.5 M152.44,247.3 v1.5 M158.26,430.5 v-1.5 M158.26,247.3 v1.5 M164.08,430.5 v-1.5 M164.08,247.3 v1.5 M169.90,430.5 v-2.6 M169.90,247.3 v2.6 M175.72,430.5 v-1.5 M175.72,247.3 v1.5 M181.54,430.5 v-1.5 M181.54,247.3 v1.5 M187.36,430.5 v-1.5 M187.36,247.3 v1.5 M193.18,430.5 v-2.6 M193.18,247.3 v2.6 M199.00,430.5 v-1.5 M199.00,247.3 v1.5 M204.82,430.5 v-1.5 M204.82,247.3 v1.5 M210.64,430.5 v-1.5 M210.64,247.3 v1.5 M216.46,430.5 v-2.6 M216.46,247.3 v2.6 M38.5,427.26 h2.6 M222.3,427.26 h-2.6 M38.5,421.57 h1.5 M222.3,421.57 h-1.5 M38.5,415.89 h1.5 M222.3,415.89 h-1.5 M38.5,410.20 h1.5 M222.3,410.20 h-1.5 M38.5,404.52 h1.5 M222.3,404.52 h-1.5 M38.5,398.83 h2.6 M222.3,398.83 h-2.6 M38.5,393.14 h1.5 M222.3,393.14 h-1.5 M38.5,387.46 h1.5 M222.3,387.46 h-1.5 M38.5,381.77 h1.5 M222.3,381.77 h-1.5 M38.5,376.09 h1.5 M222.3,376.09 h-1.5 M38.5,370.40 h2.6 M222.3,370.40 h-2.6 M38.5,364.71 h1.5 M222.3,364.71 h-1.5 M38.5,359.03 h1.5 M222.3,359.03 h-1.5 M38.5,353.34 h1.5 M222.3,353.34 h-1.5 M38.5,347.66 h1.5 M222.3,347.66 h-1.5 M38.5,341.97 h2.6 M222.3,341.97 h-2.6 M38.5,336.28 h1.5 M222.3,336.28 h-1.5 M38.5,330.60 h1.5 M222.3,330.60 h-1.5 M38.5,324.91 h1.5 M222.3,324.91 h-1.5 M38.5,319.23 h1.5 M222.3,319.23 h-1.5 M38.5,313.54 h2.6 M222.3,313.54 h-2.6 M38.5,307.85 h1.5 M222.3,307.85 h-1.5 M38.5,302.17 h1.5 M222.3,302.17 h-1.5 M38.5,296.48 h1.5 M222.3,296.48 h-1.5 M38.5,290.80 h1.5 M222.3,290.80 h-1.5 M38.5,285.11 h2.6 M222.3,285.11 h-2.6 M38.5,279.42 h1.5 M222.3,279.42 h-1.5 M38.5,273.74 h1.5 M222.3,273.74 h-1.5 M38.5,268.05 h1.5 M222.3,268.05 h-1.5 M38.5,262.37 h1.5 M222.3,262.37 h-1.5 M38.5,256.68 h2.6 M222.3,256.68 h-2.6 M38.5,250.99 h1.5 M222.3,250.99 h-1.5" stroke="#555" stroke-width="0.75" fill="none"/>
<text class="tl" x="53.50" y="439.6" text-anchor="middle">0</text>
<text class="tl" x="76.78" y="439.6" text-anchor="middle">200</text>
<text class="tl" x="100.06" y="439.6" text-anchor="middle">400</text>
<text class="tl" x="123.34" y="439.6" text-anchor="middle">600</text>
<text class="tl" x="146.62" y="439.6" text-anchor="middle">800</text>
<text class="tl" x="169.90" y="439.6" text-anchor="middle">1000</text>
<text class="tl" x="193.18" y="439.6" text-anchor="middle">1200</text>
<text class="tl" x="216.46" y="439.6" text-anchor="middle">1400</text>
<text class="tl" x="36.10" y="430.16" text-anchor="end">−200</text>
<text class="tl" x="36.10" y="401.73" text-anchor="end">−100</text>
<text class="tl" x="36.10" y="373.30" text-anchor="end">0</text>
<text class="tl" x="36.10" y="344.87" text-anchor="end">100</text>
<text class="tl" x="36.10" y="316.44" text-anchor="end">200</text>
<text class="tl" x="36.10" y="288.01" text-anchor="end">300</text>
<text class="tl" x="36.10" y="259.58" text-anchor="end">400</text>
<text class="al" x="130.2" y="453.5" text-anchor="middle"><tspan font-style="italic">x</tspan>, km</text>
<text class="al" transform="translate(10.0,339.0) rotate(-90)" text-anchor="middle"><tspan font-style="italic">z</tspan>, km</text>
<text class="cap" x="130.9" y="472.5" text-anchor="middle">(<tspan font-weight="bold">c</tspan>)</text>
<rect x="237.4" y="284.2" width="8.10" height="124.90" fill="url(#cbc)" stroke="#b0b0b0" stroke-width="0.5"/>
<text class="cl" x="249.5" y="411.00">0</text>
<text class="cl" x="249.5" y="376.59">0.2</text>
<text class="cl" x="249.5" y="342.18">0.4</text>
<text class="cl" x="249.5" y="307.78">0.6</text>
<rect x="336.3" y="255.1" width="171.70" height="160.40" fill="url(#rgd)"/>
<rect x="405.98" y="283.43" width="40" height="50" fill="url(#bld)"/>
<path d="M336.30,371.49 L340.59,371.36 L344.88,371.30 L349.18,371.31 L353.47,371.39 L357.76,371.53 L362.06,371.74 L366.35,372.02 L370.64,372.36 L374.93,372.77 L379.23,373.25 L383.52,373.79 L387.81,374.40 L392.10,375.07 L396.39,375.81 L400.69,376.62 L404.98,377.49 L409.27,378.42 L413.56,379.42 L417.86,380.48 L422.15,381.60 L426.44,382.78 L430.74,384.02 L435.03,385.33 L439.32,386.69 L443.61,388.12 L447.90,389.60 L452.20,391.14 L456.49,392.73 L460.78,394.38 L465.07,396.09 L469.37,397.85 L473.66,399.66 L477.95,401.52 L482.25,403.43 L486.54,405.40 L490.83,407.41 L495.12,409.47 L499.41,411.57 L503.71,413.72 L508.00,415.50 L508.00,415.50 L336.30,415.50 Z" fill="#008000"/>
<path d="M336.30,371.49 L340.59,371.36 L344.88,371.30 L349.18,371.31 L353.47,371.39 L357.76,371.53 L362.06,371.74 L366.35,372.02 L370.64,372.36 L374.93,372.77 L379.23,373.25 L383.52,373.79 L387.81,374.40 L392.10,375.07 L396.39,375.81 L400.69,376.62 L404.98,377.49 L409.27,378.42 L413.56,379.42 L417.86,380.48 L422.15,381.60 L426.44,382.78 L430.74,384.02 L435.03,385.33 L439.32,386.69 L443.61,388.12 L447.90,389.60 L452.20,391.14 L456.49,392.73 L460.78,394.38 L465.07,396.09 L469.37,397.85 L473.66,399.66 L477.95,401.52 L482.25,403.43 L486.54,405.40 L490.83,407.41 L495.12,409.47 L499.41,411.57 L503.71,413.72 L508.00,415.50" fill="none" stroke="#4f76b5" stroke-width="0.7"/>
<rect x="332.8" y="251.4" width="179.00" height="179.20" fill="none" stroke="#626262" stroke-width="0.8"/>
<path d="M335.13,430.6 v-1.5 M335.13,251.4 v1.5 M340.81,430.6 v-1.5 M340.81,251.4 v1.5 M346.50,430.6 v-2.6 M346.50,251.4 v2.6 M352.19,430.6 v-1.5 M352.19,251.4 v1.5 M357.87,430.6 v-1.5 M357.87,251.4 v1.5 M363.56,430.6 v-1.5 M363.56,251.4 v1.5 M369.24,430.6 v-2.6 M369.24,251.4 v2.6 M374.93,430.6 v-1.5 M374.93,251.4 v1.5 M380.61,430.6 v-1.5 M380.61,251.4 v1.5 M386.30,430.6 v-1.5 M386.30,251.4 v1.5 M391.98,430.6 v-2.6 M391.98,251.4 v2.6 M397.67,430.6 v-1.5 M397.67,251.4 v1.5 M403.35,430.6 v-1.5 M403.35,251.4 v1.5 M409.03,430.6 v-1.5 M409.03,251.4 v1.5 M414.72,430.6 v-2.6 M414.72,251.4 v2.6 M420.40,430.6 v-1.5 M420.40,251.4 v1.5 M426.09,430.6 v-1.5 M426.09,251.4 v1.5 M431.77,430.6 v-1.5 M431.77,251.4 v1.5 M437.46,430.6 v-2.6 M437.46,251.4 v2.6 M443.14,430.6 v-1.5 M443.14,251.4 v1.5 M448.83,430.6 v-1.5 M448.83,251.4 v1.5 M454.51,430.6 v-1.5 M454.51,251.4 v1.5 M460.20,430.6 v-2.6 M460.20,251.4 v2.6 M465.88,430.6 v-1.5 M465.88,251.4 v1.5 M471.57,430.6 v-1.5 M471.57,251.4 v1.5 M477.25,430.6 v-1.5 M477.25,251.4 v1.5 M482.94,430.6 v-2.6 M482.94,251.4 v2.6 M488.62,430.6 v-1.5 M488.62,251.4 v1.5 M494.31,430.6 v-1.5 M494.31,251.4 v1.5 M500.00,430.6 v-1.5 M500.00,251.4 v1.5 M505.68,430.6 v-2.6 M505.68,251.4 v2.6 M332.8,426.94 h2.6 M511.8,426.94 h-2.6 M332.8,421.38 h1.5 M511.8,421.38 h-1.5 M332.8,415.81 h1.5 M511.8,415.81 h-1.5 M332.8,410.25 h1.5 M511.8,410.25 h-1.5 M332.8,404.68 h1.5 M511.8,404.68 h-1.5 M332.8,399.12 h2.6 M511.8,399.12 h-2.6 M332.8,393.56 h1.5 M511.8,393.56 h-1.5 M332.8,387.99 h1.5 M511.8,387.99 h-1.5 M332.8,382.43 h1.5 M511.8,382.43 h-1.5 M332.8,376.86 h1.5 M511.8,376.86 h-1.5 M332.8,371.30 h2.6 M511.8,371.30 h-2.6 M332.8,365.74 h1.5 M511.8,365.74 h-1.5 M332.8,360.17 h1.5 M511.8,360.17 h-1.5 M332.8,354.61 h1.5 M511.8,354.61 h-1.5 M332.8,349.04 h1.5 M511.8,349.04 h-1.5 M332.8,343.48 h2.6 M511.8,343.48 h-2.6 M332.8,337.92 h1.5 M511.8,337.92 h-1.5 M332.8,332.35 h1.5 M511.8,332.35 h-1.5 M332.8,326.79 h1.5 M511.8,326.79 h-1.5 M332.8,321.22 h1.5 M511.8,321.22 h-1.5 M332.8,315.66 h2.6 M511.8,315.66 h-2.6 M332.8,310.10 h1.5 M511.8,310.10 h-1.5 M332.8,304.53 h1.5 M511.8,304.53 h-1.5 M332.8,298.97 h1.5 M511.8,298.97 h-1.5 M332.8,293.40 h1.5 M511.8,293.40 h-1.5 M332.8,287.84 h2.6 M511.8,287.84 h-2.6 M332.8,282.28 h1.5 M511.8,282.28 h-1.5 M332.8,276.71 h1.5 M511.8,276.71 h-1.5 M332.8,271.15 h1.5 M511.8,271.15 h-1.5 M332.8,265.58 h1.5 M511.8,265.58 h-1.5 M332.8,260.02 h2.6 M511.8,260.02 h-2.6 M332.8,254.46 h1.5 M511.8,254.46 h-1.5" stroke="#555" stroke-width="0.75" fill="none"/>
<text class="tl" x="346.50" y="439.6" text-anchor="middle">0</text>
<text class="tl" x="369.24" y="439.6" text-anchor="middle">200</text>
<text class="tl" x="391.98" y="439.6" text-anchor="middle">400</text>
<text class="tl" x="414.72" y="439.6" text-anchor="middle">600</text>
<text class="tl" x="437.46" y="439.6" text-anchor="middle">800</text>
<text class="tl" x="460.20" y="439.6" text-anchor="middle">1000</text>
<text class="tl" x="482.94" y="439.6" text-anchor="middle">1200</text>
<text class="tl" x="505.68" y="439.6" text-anchor="middle">1400</text>
<text class="tl" x="330.40" y="429.84" text-anchor="end">−200</text>
<text class="tl" x="330.40" y="402.02" text-anchor="end">−100</text>
<text class="tl" x="330.40" y="374.20" text-anchor="end">0</text>
<text class="tl" x="330.40" y="346.38" text-anchor="end">100</text>
<text class="tl" x="330.40" y="318.56" text-anchor="end">200</text>
<text class="tl" x="330.40" y="290.74" text-anchor="end">300</text>
<text class="tl" x="330.40" y="262.92" text-anchor="end">400</text>
<text class="al" x="421.8" y="451.9" text-anchor="middle"><tspan font-style="italic">x</tspan>, km</text>
<text class="al" transform="translate(304.5,340.5) rotate(-90)" text-anchor="middle"><tspan font-style="italic">z</tspan>, km</text>
<text class="cap" x="420.9" y="472.5" text-anchor="middle">(<tspan font-weight="bold">d</tspan>)</text>
<rect x="526.0" y="288.2" width="8.50" height="121.30" fill="url(#cbd)" stroke="#b0b0b0" stroke-width="0.5"/>
<text class="cl" x="537.5" y="411.40">0</text>
<text class="cl" x="537.5" y="370.97">0.2</text>
<text class="cl" x="537.5" y="330.53">0.4</text>
<text class="cl" x="537.5" y="290.10">0.6</text>
</svg>
</body></html>
